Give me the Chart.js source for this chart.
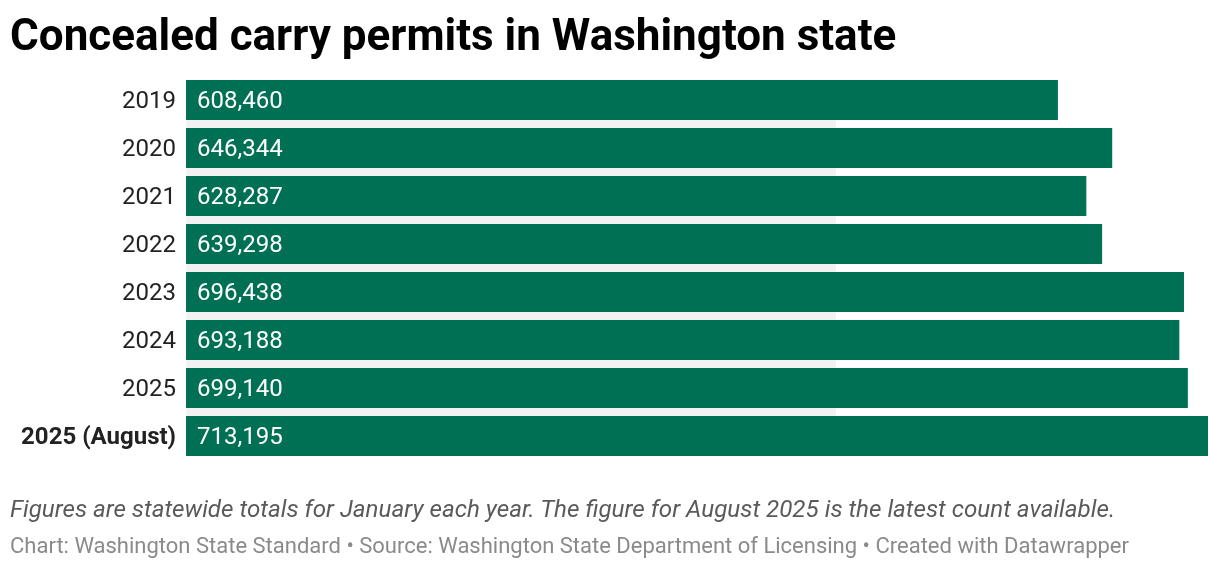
<!DOCTYPE html>
<html><head><meta charset="utf-8">
<script src="https://cdn.jsdelivr.net/npm/chart.js@4"></script>
<style>
html,body{margin:0;padding:0;background:#fff;width:1220px;height:570px;overflow:hidden;font-family:Roboto,sans-serif}
#c{position:absolute;left:0;top:0}
.t{position:absolute;left:10px;white-space:nowrap;line-height:1}
#title{top:13px;font-size:44px;font-weight:700;color:#000}
#note{top:497px;font-size:24.2px;font-style:italic;color:#5a5a5a}
#src{top:535px;font-size:22px;color:#8a8a8a}
</style></head><body>
<canvas id="c" width="1220" height="570"></canvas>
<div class="t" id="title">Concealed carry permits in Washington state</div>
<div class="t" id="note">Figures are statewide totals for January each year. The figure for August 2025 is the latest count available.</div>
<div class="t" id="src">Chart: Washington State Standard • Source: Washington State Department of Licensing • Created with Datawrapper</div>
<script>
const categories = ["2019","2020","2021","2022","2023","2024","2025","2025 (August)"];
const permits = [608460, 646344, 628287, 639298, 696438, 693188, 699140, 713195];
const highlightIndex = 7;
const backgroundExtent = 453600;

const BAR = '#007055';
const bgPlugin = {
  id:'bg',
  beforeDatasetsDraw(chart){
    const meta = chart.getDatasetMeta(0);
    const x = chart.scales.x;
    const first = meta.data[0], last = meta.data[meta.data.length-1];
    const top = first.y - first.height/2, bottom = last.y + last.height/2;
    const ctx = chart.ctx;
    ctx.save();
    ctx.fillStyle = '#f2f2f2';
    const x0 = x.getPixelForValue(0), x1 = x.getPixelForValue(backgroundExtent);
    ctx.fillRect(x0, top, x1-x0, bottom-top);
    ctx.restore();
  }
};
const labelPlugin = {
  id:'vals',
  afterDatasetsDraw(chart){
    const meta = chart.getDatasetMeta(0);
    const ctx = chart.ctx;
    ctx.save();
    ctx.fillStyle = '#fff';
    ctx.font = '24px Roboto';
    ctx.textBaseline = 'middle';
    ctx.textAlign = 'left';
    meta.data.forEach((b,i)=>{
      ctx.fillText(permits[i].toLocaleString('en-US'), b.base + 11, b.y + 2);
    });
    ctx.restore();
  }
};
new Chart(document.getElementById('c'), {
  type:'bar',
  data:{labels:categories, datasets:[{data:permits, backgroundColor:BAR, categoryPercentage:1, barPercentage:40/48}]},
  options:{
    indexAxis:'y', responsive:false, animation:false,
    layout:{padding:{top:76,bottom:110,right:12,left:0}},
    plugins:{legend:{display:false},tooltip:{enabled:false}},
    scales:{
      x:{display:false,min:0,max:713195},
      y:{
        afterFit(s){ s.width = 186; },
        grid:{display:false, drawTicks:false}, border:{display:false},
        ticks:{padding:10,color:'#222',labelOffset:1.5,
          font:(c)=>({family:'Roboto',size:24,weight: c.index===highlightIndex?'bold':'normal'})}
      }
    }
  },
  plugins:[bgPlugin,labelPlugin]
});
</script>
</body></html>
